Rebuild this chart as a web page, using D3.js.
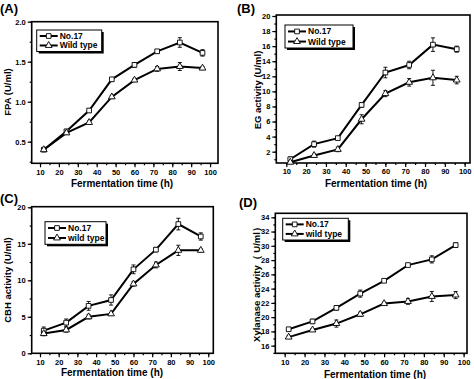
<!DOCTYPE html>
<html><head><meta charset="utf-8">
<script src="https://cdn.jsdelivr.net/npm/d3@7"></script>
<style>
body{margin:0;background:#fff;}
svg{display:block;}
text{font-family:"Liberation Sans",Arial,sans-serif;font-weight:bold;fill:#000;}
</style></head><body>
<svg id="c" width="474" height="379"></svg>
<script>
// ---- data ----
const times = [12, 24, 36, 48, 60, 72, 84, 96];
const xTicks = [10, 20, 30, 40, 50, 60, 70, 80, 90, 100];

const fpaNo17 = [0.40, 0.63, 0.89, 1.28, 1.46, 1.63, 1.74, 1.61];
const fpaNo17Err = [0.02, 0.02, 0.02, 0.02, 0.03, 0.02, 0.06, 0.04];
const fpaWild = [0.40, 0.61, 0.74, 1.06, 1.27, 1.41, 1.44, 1.42];
const fpaWildErr = [0.02, 0.02, 0.02, 0.02, 0.02, 0.03, 0.05, 0.02];
const fpaTicks = [0.5, 1.0, 1.5, 2.0];

const egNo17 = [1.0, 3.0, 3.8, 8.2, 12.5, 13.5, 16.2, 15.6];
const egNo17Err = [0.3, 0.4, 0.2, 0.3, 0.7, 0.5, 0.9, 0.4];
const egWild = [0.6, 1.5, 2.3, 6.3, 9.7, 11.2, 11.8, 11.5];
const egWildErr = [0.2, 0.2, 0.3, 0.6, 0.4, 0.5, 1.0, 0.5];
const egTicks = [2, 4, 6, 8, 10, 12, 14, 16, 18, 20];

const cbhNo17 = [3.1, 4.2, 6.5, 7.3, 11.5, 14.2, 17.7, 16.0];
const cbhNo17Err = [0.5, 0.5, 0.6, 0.7, 0.6, 0.3, 0.8, 0.5];
const cbhWild = [2.7, 3.2, 5.0, 5.4, 9.5, 12.1, 14.1, 14.1];
const cbhWildErr = [0.3, 0.3, 0.3, 0.2, 0.3, 0.4, 0.7, 0.2];
const cbhTicks = [0, 5, 10, 15, 20];

const xylNo17 = [18.3, 19.4, 21.3, 23.3, 25.1, 27.3, 28.1, 30.1];
const xylNo17Err = [0.2, 0.3, 0.3, 0.5, 0.2, 0.2, 0.5, 0.3];
const xylWild = [17.2, 18.2, 19.1, 20.4, 21.9, 22.2, 22.9, 23.1];
const xylWildErr = [0.2, 0.2, 0.5, 0.3, 0.2, 0.4, 0.7, 0.5];
const xylTicks = [16, 18, 20, 22, 24, 26, 28, 30, 32, 34];

// ---- layout ----
const panels = [
  {label:"(A)", lx:0, ly:13, x0:31.7, x1:218, y0:21.7, y1:163.3,
   xd:[5.6,104.2], yd:[0.23,2.0], yt:fpaTicks, ymin:0.25, fmt:d3.format(".1f"),
   ytitle:"FPA (U/ml)", ytx:8, yty:92, xtx:122, xty:187,
   leg:[36.7,30,65,21.5], names:["No.17","Wild type"],
   s1:fpaNo17, e1:fpaNo17Err, s2:fpaWild, e2:fpaWildErr},
  {label:"(B)", lx:237, ly:13, x0:276.3, x1:470, y0:15, y1:163,
   xd:[4.95,102.7], yd:[0.5,20.13], yt:egTicks, ymin:1, fmt:d3.format("d"),
   ytitle:"EG activity (U/ml)", ytx:258, yty:90, xtx:376, xty:187,
   leg:[285,25,68,23], names:["No.17","Wild type"],
   s1:egNo17, e1:egNo17Err, s2:egWild, e2:egWildErr},
  {label:"(C)", lx:0, ly:203, x0:31.7, x1:213.3, y0:206.7, y1:353.3,
   xd:[5.56,102.7], yd:[0,20.08], yt:cbhTicks, ymin:2.5, fmt:d3.format("d"),
   ytitle:"CBH activity (U/ml)", ytx:8, yty:280, xtx:112, xty:376,
   leg:[45,221.7,61,22.6], names:["No.17","wild type"],
   s1:cbhNo17, e1:cbhNo17Err, s2:cbhWild, e2:cbhWildErr},
  {label:"(D)", lx:239, ly:207, x0:275.3, x1:467, y0:213.3, y1:353.3,
   xd:[5.27,101.7], yd:[14.93,34.56], yt:xylTicks, ymin:1, fmt:d3.format("d"),
   ytitle:"Xylanase activity\uFF08 U/ml\uFF09", ytx:257, yty:282, xtx:375, xty:378,
   leg:[282.7,218.3,65.6,21.7], names:["No.17","wild type"],
   s1:xylNo17, e1:xylNo17Err, s2:xylWild, e2:xylWildErr}
];

const svg = d3.select("#c");
const tri = d3.symbol().type(d3.symbolTriangle).size(20);
const sq = d3.symbol().type(d3.symbolSquare).size(22);

panels.forEach(p => {
  const g = svg.append("g");
  const x = d3.scaleLinear().domain(p.xd).range([p.x0, p.x1]);
  const y = d3.scaleLinear().domain(p.yd).range([p.y1, p.y0]);

  // panel label
  g.append("text").attr("x", p.lx).attr("y", p.ly).attr("font-size", 13).text(p.label);

  // frame
  g.append("rect").attr("x", p.x0).attr("y", p.y0).attr("width", p.x1 - p.x0).attr("height", p.y1 - p.y0)
    .attr("fill", "none").attr("stroke", "#000").attr("stroke-width", 1.6);

  // x axis
  const xMinor = d3.range(10, 101, 5).filter(v => v >= p.xd[0] && v <= p.xd[1]);
  const xa = g.append("g").attr("transform", `translate(0,${p.y1})`)
    .call(d3.axisBottom(x).tickValues(xMinor).tickSize(2).tickFormat(""));
  xa.select(".domain").remove();
  xa.selectAll("line").attr("stroke-width", 1.2);
  const xb = g.append("g").attr("transform", `translate(0,${p.y1})`)
    .call(d3.axisBottom(x).tickValues(xTicks).tickSize(4).tickPadding(2));
  xb.select(".domain").remove();
  xb.selectAll("line").attr("stroke-width", 1.2);
  xb.selectAll("text").attr("font-size", 7.5).attr("font-family", "Liberation Sans, Arial").attr("font-weight", "bold");

  // y axis
  const step = p.yt[1] - p.yt[0];
  const yMinor = d3.range(p.yt[0] - step, p.yt[p.yt.length - 1] + step, step / 2)
    .filter(v => v >= p.yd[0] && v <= p.yd[1]);
  const ya = g.append("g").attr("transform", `translate(${p.x0},0)`)
    .call(d3.axisLeft(y).tickValues(yMinor).tickSize(2).tickFormat(""));
  ya.select(".domain").remove();
  ya.selectAll("line").attr("stroke-width", 1.2);
  const yb = g.append("g").attr("transform", `translate(${p.x0},0)`)
    .call(d3.axisLeft(y).tickValues(p.yt).tickSize(4).tickPadding(2).tickFormat(p.fmt));
  yb.select(".domain").remove();
  yb.selectAll("line").attr("stroke-width", 1.2);
  yb.selectAll("text").attr("font-size", 7.5).attr("font-family", "Liberation Sans, Arial").attr("font-weight", "bold");

  // axis titles
  g.append("text").attr("x", p.xtx).attr("y", p.xty).attr("text-anchor", "middle").attr("font-size", 10)
    .text("Fermentation time (h)");
  g.append("text").attr("transform", `translate(${p.ytx},${p.yty}) rotate(-90)`)
    .attr("text-anchor", "middle").attr("dy", "0.35em").attr("font-size", 9.5).text(p.ytitle);

  // series
  const line = d3.line().x((d, i) => x(times[i])).y(d => y(d));
  [[p.s1, p.e1, sq], [p.s2, p.e2, tri]].forEach(([s, e, sym]) => {
    g.append("path").attr("d", line(s)).attr("fill", "none").attr("stroke", "#000").attr("stroke-width", 2);
    const eb = g.append("g").attr("stroke", "#000").attr("stroke-width", 0.9);
    s.forEach((v, i) => {
      const cx = x(times[i]), yt = y(v + e[i]), yb2 = y(v - e[i]);
      eb.append("line").attr("x1", cx).attr("x2", cx).attr("y1", yt).attr("y2", yb2);
      eb.append("line").attr("x1", cx - 2).attr("x2", cx + 2).attr("y1", yt).attr("y2", yt);
      eb.append("line").attr("x1", cx - 2).attr("x2", cx + 2).attr("y1", yb2).attr("y2", yb2);
    });
    g.selectAll(null).data(s).enter().append("path")
      .attr("d", sym).attr("transform", (d, i) => `translate(${x(times[i])},${y(d)})`)
      .attr("fill", "#fff").attr("stroke", "#000").attr("stroke-width", 0.9);
  });

  // legend
  const [lx, ly, lw, lh] = p.leg;
  g.append("rect").attr("x", lx + 2).attr("y", ly + 2).attr("width", lw).attr("height", lh).attr("fill", "#000");
  g.append("rect").attr("x", lx).attr("y", ly).attr("width", lw).attr("height", lh)
    .attr("fill", "#fff").attr("stroke", "#000").attr("stroke-width", 1);
  [sq, tri].forEach((sym, k) => {
    const yy = ly + lh * (k === 0 ? 0.28 : 0.72);
    g.append("line").attr("x1", lx + 3).attr("x2", lx + 21).attr("y1", yy).attr("y2", yy)
      .attr("stroke", "#000").attr("stroke-width", 2);
    g.append("path").attr("d", sym).attr("transform", `translate(${lx + 12},${yy})`)
      .attr("fill", "#fff").attr("stroke", "#000").attr("stroke-width", 0.9);
    g.append("text").attr("x", lx + 23).attr("y", yy).attr("dy", "0.35em").attr("font-size", 8.5).text(p.names[k]);
  });
});
</script>
</body></html>
